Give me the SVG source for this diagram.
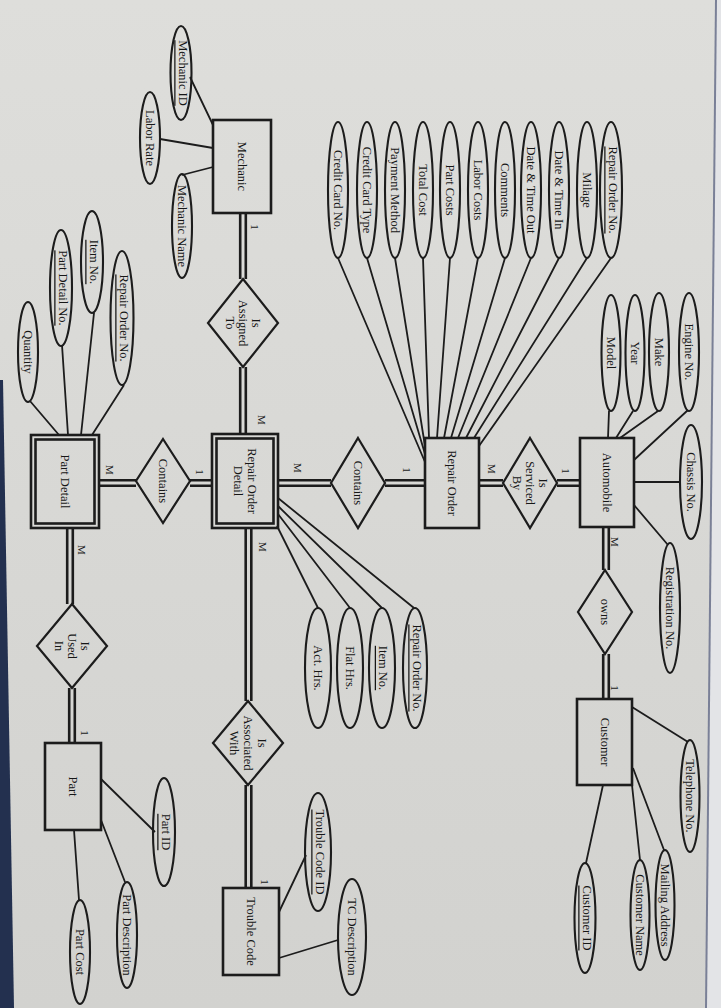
<svg xmlns="http://www.w3.org/2000/svg" width="721" height="1008" viewBox="0 0 721 1008">
<defs>
<style>
.e{fill:none;stroke:#1c1c1c;stroke-width:2.6}
.r{fill:none;stroke:#1c1c1c;stroke-width:2.2}
.a{fill:none;stroke:#1c1c1c;stroke-width:2.1}
.l{fill:none;stroke:#1c1c1c;stroke-width:1.8}
.d{fill:none;stroke:#1c1c1c;stroke-width:2.6}
.t{font-family:"Liberation Serif","Times New Roman",serif;font-size:12.5px;fill:#161616;text-anchor:middle;dominant-baseline:central}
.c{font-family:"Liberation Serif","Times New Roman",serif;font-size:11px;fill:#1a1a1a;text-anchor:middle;dominant-baseline:central}
.u{text-decoration:underline}
</style>
<linearGradient id="bg" x1="0" y1="0" x2="0" y2="1">
<stop offset="0" stop-color="#dededb"/>
<stop offset="1" stop-color="#d2d2cf"/>
</linearGradient>
</defs>
<rect x="0" y="0" width="721" height="1008" fill="url(#bg)"/>
<polygon points="716,0 721,0 721,1008 706,1008" fill="#e3e4e7"/>
<line x1="716" y1="0" x2="706" y2="1008" stroke="#7a8097" stroke-width="2"/>
<polygon points="0,380 3,380 14,1008 0,1008" fill="#23304f"/>

<g id="connectors">
<path class="d" d="M603.2,527 V570 M608.8,527 V570"/>
<path class="d" d="M603.2,654 V699 M608.8,654 V699"/>
<path class="d" d="M557,480.2 H580 M557,485.8 H580"/>
<path class="d" d="M479,480.2 H503 M479,485.8 H503"/>
<path class="d" d="M385,480.2 H425 M385,485.8 H425"/>
<path class="d" d="M278,480.2 H331 M278,485.8 H331"/>
<path class="d" d="M190,480.2 H212 M190,485.8 H212"/>
<path class="d" d="M99,480.2 H136 M99,485.8 H136"/>
<path class="d" d="M240.2,213 V279 M245.8,213 V279"/>
<path class="d" d="M240.2,367 V434 M245.8,367 V434"/>
<path class="d" d="M245.7,528 V701 M251.3,528 V701"/>
<path class="d" d="M245.7,785 V888 M251.3,785 V888"/>
<path class="d" d="M67.2,528 V604 M72.8,528 V604"/>
<path class="d" d="M69.2,688 V743 M74.8,688 V743"/>
<path class="l" d="M688,410 L634,460 M658,411 L620,438 M633,411 L616,438 M609,411 L608,438 M634,482 L680,482 M634,505 L668,545"/>
<path class="l" d="M632,707 L688,742 M633,768 L664,850 M632,785 L640,860 M603,785 L586,863"/>
<path class="l" d="M611,258 L479,446 M587,258 L474,438 M559,258 L466,438 M531,258 L458,438 M505,258 L451,438 M478,258 L444,438 M450,258 L437,438 M423,258 L429,438 M395,258 L425,446 M367,258 L425,454 M338,258 L425,462"/>
<path class="l" d="M278,498 L414,608 M278,506 L382,608 M278,514 L350,608 M277,526 L318,608"/>
<path class="l" d="M190,77 L213,125 M160,139 L213,148 M182,175 L213,167"/>
<path class="l" d="M124,385 L92,435 M94,313 L81,435 M62,345 L68,435 M30,401 L59,435"/>
<path class="l" d="M101,779 L155,832 M101,820 L125,882 M74,830 L79,900"/>
<path class="l" d="M279,912 L306,855 M279,958 L338,940"/>
<text class="c" transform="translate(566,471) rotate(90)">1</text>
<text class="c" transform="translate(492,469) rotate(90)">M</text>
<text class="c" transform="translate(407,470) rotate(90)">1</text>
<text class="c" transform="translate(298,468) rotate(90)">M</text>
<text class="c" transform="translate(200,472) rotate(90)">1</text>
<text class="c" transform="translate(110,470) rotate(90)">M</text>
<text class="c" transform="translate(255,227) rotate(90)">1</text>
<text class="c" transform="translate(262,420) rotate(90)">M</text>
<text class="c" transform="translate(263,547) rotate(90)">M</text>
<text class="c" transform="translate(265,882) rotate(90)">1</text>
<text class="c" transform="translate(82,550) rotate(90)">M</text>
<text class="c" transform="translate(85,733) rotate(90)">1</text>
<text class="c" transform="translate(615,542) rotate(90)">M</text>
<text class="c" transform="translate(615,688) rotate(90)">1</text>
</g>

<g id="automobile"><rect class="e" x="580" y="438" width="54" height="89"/><text class="t" transform="translate(607,482.5) rotate(90)">Automobile</text></g>
<g id="customer"><rect class="e" x="577" y="699" width="55" height="86"/><text class="t" transform="translate(604.5,742) rotate(90)">Customer</text></g>
<g id="repair-order"><rect class="e" x="425" y="438" width="54" height="90"/><text class="t" transform="translate(452,483) rotate(90)">Repair Order</text></g>
<g id="repair-order-detail"><rect class="e" x="212" y="434" width="66" height="94"/><rect class="e" x="216.5" y="438.5" width="57" height="85"/><text class="t" transform="translate(245,481) rotate(90)"><tspan x="0" y="-7">Repair Order</tspan><tspan x="0" y="7">Detail</tspan></text></g>
<g id="mechanic"><rect class="e" x="213" y="120" width="58" height="93"/><text class="t" transform="translate(242,166.5) rotate(90)">Mechanic</text></g>
<g id="part-detail"><rect class="e" x="31" y="435" width="68" height="93"/><rect class="e" x="35.5" y="439.5" width="59" height="84"/><text class="t" transform="translate(65,481.5) rotate(90)">Part Detail</text></g>
<g id="part"><rect class="e" x="45" y="743" width="56" height="87"/><text class="t" transform="translate(73,786.5) rotate(90)">Part</text></g>
<g id="trouble-code"><rect class="e" x="223" y="888" width="56" height="87"/><text class="t" transform="translate(251,931.5) rotate(90)">Trouble Code</text></g>

<g id="owns"><polygon class="r" points="605,570 632,612 605,654 578,612"/><text class="t" transform="translate(605,612) rotate(90)">owns</text></g>
<g id="is-serviced-by"><polygon class="r" points="530,438 557,483 530,528 503,483"/><text class="t" transform="translate(530,483) rotate(90)"><tspan x="0" y="-13">Is</tspan><tspan x="0" y="0">Serviced</tspan><tspan x="0" y="13">By</tspan></text></g>
<g id="contains-1"><polygon class="r" points="358,438 385,483 358,528 331,483"/><text class="t" transform="translate(358,483) rotate(90)">Contains</text></g>
<g id="is-assigned-to"><polygon class="r" points="243,279 278,323 243,367 208,323"/><text class="t" transform="translate(243,323) rotate(90)"><tspan x="0" y="-13">Is</tspan><tspan x="0" y="0">Assigned</tspan><tspan x="0" y="13">To</tspan></text></g>
<g id="contains-2"><polygon class="r" points="163,439 190,481 163,523 136,481"/><text class="t" transform="translate(163,481) rotate(90)">Contains</text></g>
<g id="is-used-in"><polygon class="r" points="72,604 107,646 72,688 37,646"/><text class="t" transform="translate(72,646) rotate(90)"><tspan x="0" y="-13">Is</tspan><tspan x="0" y="0">Used</tspan><tspan x="0" y="13">In</tspan></text></g>
<g id="is-associated-with"><polygon class="r" points="248,701 283,743 248,785 213,743"/><text class="t" transform="translate(248,743) rotate(90)"><tspan x="0" y="-14">Is</tspan><tspan x="0" y="0">Associated</tspan><tspan x="0" y="14">With</tspan></text></g>

<g id="engine-no"><ellipse class="a" cx="689" cy="352" rx="10" ry="59"/><text class="t" transform="translate(689,352) rotate(90)">Engine No.</text></g>
<g id="make"><ellipse class="a" cx="659" cy="352" rx="10" ry="59"/><text class="t" transform="translate(659,352) rotate(90)">Make</text></g>
<g id="year"><ellipse class="a" cx="635" cy="353" rx="9.5" ry="58"/><text class="t" transform="translate(635,353) rotate(90)">Year</text></g>
<g id="model"><ellipse class="a" cx="611" cy="353" rx="9.5" ry="58"/><text class="t" transform="translate(611,353) rotate(90)">Model</text></g>
<g id="chassis-no"><ellipse class="a" cx="691" cy="482" rx="11" ry="57"/><text class="t" transform="translate(691,482) rotate(90)">Chassis No.</text></g>
<g id="registration-no"><ellipse class="a" cx="670" cy="608" rx="10" ry="65"/><text class="t" transform="translate(670,608) rotate(90)">Registration No.</text></g>
<g id="telephone-no"><ellipse class="a" cx="690" cy="796" rx="9.5" ry="56"/><text class="t" transform="translate(690,796) rotate(90)">Telephone No.</text></g>
<g id="mailing-address"><ellipse class="a" cx="665" cy="905" rx="9.5" ry="55"/><text class="t" transform="translate(665,905) rotate(90)">Mailing Address</text></g>
<g id="customer-name"><ellipse class="a" cx="640" cy="915" rx="9.5" ry="55"/><text class="t" transform="translate(640,915) rotate(90)">Customer Name</text></g>
<g id="customer-id"><ellipse class="a" cx="585" cy="918" rx="10.5" ry="55"/><text class="t u" transform="translate(586.5,918) rotate(90)">Customer ID</text></g>
<g id="ro-repair-order-no"><ellipse class="a" cx="611" cy="190" rx="11" ry="68"/><text class="t u" transform="translate(612.5,190) rotate(90)">Repair Order No.</text></g>
<g id="milage"><ellipse class="a" cx="587" cy="190" rx="10" ry="68"/><text class="t" transform="translate(587,190) rotate(90)">Milage</text></g>
<g id="date-time-in"><ellipse class="a" cx="559" cy="190" rx="10" ry="68"/><text class="t" transform="translate(559,190) rotate(90)">Date &amp; Time In</text></g>
<g id="date-time-out"><ellipse class="a" cx="531" cy="190" rx="10" ry="68"/><text class="t" transform="translate(531,190) rotate(90)">Date &amp; Time Out</text></g>
<g id="comments"><ellipse class="a" cx="505" cy="190" rx="10" ry="68"/><text class="t" transform="translate(505,190) rotate(90)">Comments</text></g>
<g id="labor-costs"><ellipse class="a" cx="478" cy="190" rx="10" ry="68"/><text class="t" transform="translate(478,190) rotate(90)">Labor Costs</text></g>
<g id="part-costs"><ellipse class="a" cx="450" cy="190" rx="10" ry="68"/><text class="t" transform="translate(450,190) rotate(90)">Part Costs</text></g>
<g id="total-cost"><ellipse class="a" cx="423" cy="190" rx="10" ry="68"/><text class="t" transform="translate(423,190) rotate(90)">Total Cost</text></g>
<g id="payment-method"><ellipse class="a" cx="395" cy="190" rx="10" ry="68"/><text class="t" transform="translate(395,190) rotate(90)">Payment Method</text></g>
<g id="credit-card-type"><ellipse class="a" cx="367" cy="190" rx="10" ry="68"/><text class="t" transform="translate(367,190) rotate(90)">Credit Card Type</text></g>
<g id="credit-card-no"><ellipse class="a" cx="338" cy="190" rx="10" ry="68"/><text class="t" transform="translate(338,190) rotate(90)">Credit Card No.</text></g>
<g id="rod-repair-order-no"><ellipse class="a" cx="415" cy="668" rx="12" ry="60"/><text class="t u" transform="translate(416.5,668) rotate(90)">Repair Order No.</text></g>
<g id="rod-item-no"><ellipse class="a" cx="382" cy="668" rx="13" ry="60"/><text class="t u" transform="translate(383,668) rotate(90)">Item No.</text></g>
<g id="flat-hrs"><ellipse class="a" cx="350" cy="668" rx="13" ry="60"/><text class="t" transform="translate(350,668) rotate(90)">Flat Hrs.</text></g>
<g id="act-hrs"><ellipse class="a" cx="318" cy="668" rx="13" ry="60"/><text class="t" transform="translate(318,668) rotate(90)">Act. Hrs.</text></g>
<g id="mechanic-id"><ellipse class="a" cx="181" cy="73" rx="10.5" ry="47"/><text class="t u" transform="translate(182.5,73) rotate(90)">Mechanic ID</text></g>
<g id="labor-rate"><ellipse class="a" cx="150" cy="138" rx="10" ry="46"/><text class="t" transform="translate(150,138) rotate(90)">Labor Rate</text></g>
<g id="mechanic-name"><ellipse class="a" cx="182" cy="226" rx="10" ry="52"/><text class="t" transform="translate(182,226) rotate(90)">Mechanic Name</text></g>
<g id="pd-repair-order-no"><ellipse class="a" cx="122" cy="318" rx="11.5" ry="67"/><text class="t u" transform="translate(123.5,318) rotate(90)">Repair Order No.</text></g>
<g id="pd-item-no"><ellipse class="a" cx="92" cy="262" rx="11" ry="51"/><text class="t u" transform="translate(93.5,262) rotate(90)">Item No.</text></g>
<g id="part-detail-no"><ellipse class="a" cx="61" cy="288" rx="11" ry="58"/><text class="t u" transform="translate(62.5,288) rotate(90)">Part Detail No.</text></g>
<g id="quantity"><ellipse class="a" cx="28" cy="352" rx="10" ry="50"/><text class="t" transform="translate(28,352) rotate(90)">Quantity</text></g>
<g id="part-id"><ellipse class="a" cx="164" cy="832" rx="11" ry="54"/><text class="t u" transform="translate(165.5,832) rotate(90)">Part ID</text></g>
<g id="part-description"><ellipse class="a" cx="127" cy="935" rx="10" ry="53"/><text class="t" transform="translate(127,935) rotate(90)">Part Description</text></g>
<g id="part-cost"><ellipse class="a" cx="80" cy="952" rx="10" ry="52"/><text class="t" transform="translate(80,952) rotate(90)">Part Cost</text></g>
<g id="trouble-code-id"><ellipse class="a" cx="318" cy="852" rx="13" ry="59"/><text class="t u" transform="translate(319.5,852) rotate(90)">Trouble Code ID</text></g>
<g id="tc-description"><ellipse class="a" cx="352" cy="937" rx="14" ry="58"/><text class="t" transform="translate(352,937) rotate(90)">TC Description</text></g>
</svg>
